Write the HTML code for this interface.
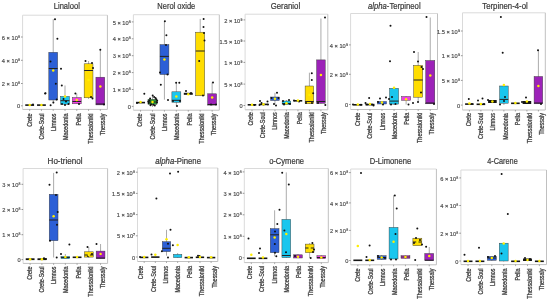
<!DOCTYPE html>
<html><head><meta charset="utf-8"><style>
html,body{margin:0;padding:0;background:#fff;width:550px;height:302px;overflow:hidden}
svg{display:block;will-change:transform}
text{font-family:"Liberation Sans", sans-serif}
</style></head><body>
<svg width="550" height="302" viewBox="0 0 550 302">
<rect width="550" height="302" fill="#fff"/>
<g><path d="M22.6 109.4V15.2H107.4" fill="none" stroke="#dadada" stroke-width="1"/><path d="M22.6 109.4H107.4V15.2" fill="none" stroke="#c0c0c0" stroke-width="1"/><text transform="translate(66.8,9.2) scale(0.916,1)" text-anchor="middle" font-size="8.3" fill="#383838" stroke="#383838" stroke-width="0.2">Linalool</text><line x1="21" y1="37" x2="22.6" y2="37" stroke="#555" stroke-width="0.6"/><text transform="translate(20.2,39.6) scale(0.98,1)" text-anchor="end" font-size="5.8" fill="#4a4a4a" stroke="#4a4a4a" stroke-width="0.16">6 × 10⁸</text><line x1="21" y1="60.3" x2="22.6" y2="60.3" stroke="#555" stroke-width="0.6"/><text transform="translate(20.2,62.9) scale(0.98,1)" text-anchor="end" font-size="5.8" fill="#4a4a4a" stroke="#4a4a4a" stroke-width="0.16">4 × 10⁸</text><line x1="21" y1="83.5" x2="22.6" y2="83.5" stroke="#555" stroke-width="0.6"/><text transform="translate(20.2,86.1) scale(0.98,1)" text-anchor="end" font-size="5.8" fill="#4a4a4a" stroke="#4a4a4a" stroke-width="0.16">2 × 10⁸</text><line x1="21" y1="105.8" x2="22.6" y2="105.8" stroke="#555" stroke-width="0.6"/><text transform="translate(20.2,108.4) scale(0.98,1)" text-anchor="end" font-size="5.8" fill="#4a4a4a" stroke="#4a4a4a" stroke-width="0.16">0</text><line x1="29.67" y1="109.4" x2="29.67" y2="110.9" stroke="#777" stroke-width="0.6"/><text transform="translate(31.7,113.5) rotate(-90) scale(0.85,1)" text-anchor="end" font-size="6.4" fill="#3c3c3c" stroke="#3c3c3c" stroke-width="0.26">Crete</text><line x1="41.44" y1="109.4" x2="41.44" y2="110.9" stroke="#777" stroke-width="0.6"/><text transform="translate(43.95,113.5) rotate(-90) scale(0.85,1)" text-anchor="end" font-size="6.4" fill="#3c3c3c" stroke="#3c3c3c" stroke-width="0.26">Crete-Soul</text><line x1="53.22" y1="109.4" x2="53.22" y2="110.9" stroke="#777" stroke-width="0.6"/><text transform="translate(56.2,113.5) rotate(-90) scale(0.85,1)" text-anchor="end" font-size="6.4" fill="#3c3c3c" stroke="#3c3c3c" stroke-width="0.26">Limnos</text><line x1="65" y1="109.4" x2="65" y2="110.9" stroke="#777" stroke-width="0.6"/><text transform="translate(68.45,113.5) rotate(-90) scale(0.85,1)" text-anchor="end" font-size="6.4" fill="#3c3c3c" stroke="#3c3c3c" stroke-width="0.26">Macedonia</text><line x1="76.78" y1="109.4" x2="76.78" y2="110.9" stroke="#777" stroke-width="0.6"/><text transform="translate(80.7,113.5) rotate(-90) scale(0.85,1)" text-anchor="end" font-size="6.4" fill="#3c3c3c" stroke="#3c3c3c" stroke-width="0.26">Pella</text><line x1="88.56" y1="109.4" x2="88.56" y2="110.9" stroke="#777" stroke-width="0.6"/><text transform="translate(92.95,113.5) rotate(-90) scale(0.85,1)" text-anchor="end" font-size="6.4" fill="#3c3c3c" stroke="#3c3c3c" stroke-width="0.26">Thessaloniki</text><line x1="100.33" y1="109.4" x2="100.33" y2="110.9" stroke="#777" stroke-width="0.6"/><text transform="translate(105.2,113.5) rotate(-90) scale(0.85,1)" text-anchor="end" font-size="6.4" fill="#3c3c3c" stroke="#3c3c3c" stroke-width="0.26">Thessaly</text><rect x="25.25" y="104.3" width="8.83" height="1.6" fill="#151515"/><circle cx="33" cy="104.5" r="1" fill="#111"/><circle cx="29.67" cy="105" r="1.25" fill="#ffee00"/><rect x="37.03" y="104.3" width="8.83" height="1.6" fill="#151515"/><circle cx="45.5" cy="93.3" r="1" fill="#111"/><circle cx="41.44" cy="105" r="1.25" fill="#ffee00"/><line x1="53.22" y1="19.2" x2="53.22" y2="103.7" stroke="#888" stroke-width="0.7"/><rect x="48.81" y="52.3" width="8.83" height="47.7" fill="#2c5fd6" stroke="#3a3a3a" stroke-width="0.45"/><line x1="48.81" y1="68.5" x2="57.64" y2="68.5" stroke="#222" stroke-width="1"/><circle cx="55" cy="19.2" r="1" fill="#111"/><circle cx="57.4" cy="38.7" r="1" fill="#111"/><circle cx="50.5" cy="61.4" r="1" fill="#111"/><circle cx="61" cy="68.7" r="1" fill="#111"/><circle cx="55.8" cy="83.8" r="1" fill="#111"/><circle cx="56.7" cy="99.6" r="1" fill="#111"/><circle cx="53.4" cy="102.4" r="1" fill="#111"/><circle cx="50.6" cy="105.3" r="1" fill="#111"/><circle cx="45.1" cy="93.6" r="1" fill="#111"/><circle cx="53.22" cy="70.5" r="1.25" fill="#ffee00"/><line x1="65" y1="85.5" x2="65" y2="105.5" stroke="#888" stroke-width="0.7"/><rect x="60.58" y="96.4" width="8.83" height="7.8" fill="#19c6ee" stroke="#3a3a3a" stroke-width="0.45"/><line x1="60.58" y1="100.7" x2="69.42" y2="100.7" stroke="#222" stroke-width="1"/><circle cx="61.8" cy="85.5" r="1" fill="#111"/><circle cx="63.5" cy="99" r="1" fill="#111"/><circle cx="66" cy="101.5" r="1" fill="#111"/><circle cx="62" cy="104" r="1" fill="#111"/><circle cx="68.5" cy="104" r="1" fill="#111"/><circle cx="65" cy="105" r="1" fill="#111"/><circle cx="65" cy="96.4" r="1.25" fill="#ffee00"/><line x1="76.78" y1="93.6" x2="76.78" y2="104" stroke="#888" stroke-width="0.7"/><rect x="72.36" y="97.5" width="8.83" height="6.3" fill="#ee3fe2" stroke="#3a3a3a" stroke-width="0.45"/><line x1="72.36" y1="101.5" x2="81.19" y2="101.5" stroke="#222" stroke-width="1"/><circle cx="75.4" cy="93.6" r="1" fill="#111"/><circle cx="79" cy="104" r="1" fill="#111"/><circle cx="76.78" cy="100" r="1.25" fill="#ffee00"/><line x1="88.56" y1="61" x2="88.56" y2="99" stroke="#888" stroke-width="0.7"/><rect x="84.14" y="63.8" width="8.83" height="34" fill="#ffdd00" stroke="#3a3a3a" stroke-width="0.45"/><line x1="84.14" y1="70.5" x2="92.97" y2="70.5" stroke="#222" stroke-width="1"/><circle cx="85.5" cy="61" r="1" fill="#111"/><circle cx="92" cy="63" r="1" fill="#111"/><circle cx="93" cy="68" r="1" fill="#111"/><circle cx="91" cy="97" r="1" fill="#111"/><circle cx="92.5" cy="98.5" r="1" fill="#111"/><circle cx="88.56" cy="80" r="1.25" fill="#ffee00"/><line x1="100.33" y1="49.7" x2="100.33" y2="105" stroke="#888" stroke-width="0.7"/><rect x="95.92" y="77.2" width="8.83" height="27.7" fill="#9c22b8" stroke="#3a3a3a" stroke-width="0.45"/><line x1="95.92" y1="104" x2="104.75" y2="104" stroke="#222" stroke-width="1"/><circle cx="100.3" cy="49.7" r="1" fill="#111"/><circle cx="104" cy="104.5" r="1" fill="#111"/><circle cx="100.33" cy="86.5" r="1.25" fill="#ffee00"/></g>
<g><path d="M133.4 110.2V14.7H219.3" fill="none" stroke="#dadada" stroke-width="1"/><path d="M133.4 110.2H219.3V14.7" fill="none" stroke="#c0c0c0" stroke-width="1"/><text transform="translate(176.3,8.7) scale(0.905,1)" text-anchor="middle" font-size="8.3" fill="#383838" stroke="#383838" stroke-width="0.2">Nerol oxide</text><line x1="131.8" y1="21.9" x2="133.4" y2="21.9" stroke="#555" stroke-width="0.6"/><text transform="translate(131,24.5) scale(0.98,1)" text-anchor="end" font-size="5.8" fill="#4a4a4a" stroke="#4a4a4a" stroke-width="0.16">5 × 10⁸</text><line x1="131.8" y1="38.8" x2="133.4" y2="38.8" stroke="#555" stroke-width="0.6"/><text transform="translate(131,41.4) scale(0.98,1)" text-anchor="end" font-size="5.8" fill="#4a4a4a" stroke="#4a4a4a" stroke-width="0.16">4 × 10⁸</text><line x1="131.8" y1="55.7" x2="133.4" y2="55.7" stroke="#555" stroke-width="0.6"/><text transform="translate(131,58.3) scale(0.98,1)" text-anchor="end" font-size="5.8" fill="#4a4a4a" stroke="#4a4a4a" stroke-width="0.16">3 × 10⁸</text><line x1="131.8" y1="72.6" x2="133.4" y2="72.6" stroke="#555" stroke-width="0.6"/><text transform="translate(131,75.2) scale(0.98,1)" text-anchor="end" font-size="5.8" fill="#4a4a4a" stroke="#4a4a4a" stroke-width="0.16">2 × 10⁸</text><line x1="131.8" y1="89.5" x2="133.4" y2="89.5" stroke="#555" stroke-width="0.6"/><text transform="translate(131,92.1) scale(0.98,1)" text-anchor="end" font-size="5.8" fill="#4a4a4a" stroke="#4a4a4a" stroke-width="0.16">1 × 10⁸</text><line x1="131.8" y1="106.4" x2="133.4" y2="106.4" stroke="#555" stroke-width="0.6"/><text transform="translate(131,109) scale(0.98,1)" text-anchor="end" font-size="5.8" fill="#4a4a4a" stroke="#4a4a4a" stroke-width="0.16">0</text><line x1="140.56" y1="110.2" x2="140.56" y2="111.7" stroke="#777" stroke-width="0.6"/><text transform="translate(142.4,113.5) rotate(-90) scale(0.85,1)" text-anchor="end" font-size="6.4" fill="#3c3c3c" stroke="#3c3c3c" stroke-width="0.26">Crete</text><line x1="152.49" y1="110.2" x2="152.49" y2="111.7" stroke="#777" stroke-width="0.6"/><text transform="translate(154.68,113.5) rotate(-90) scale(0.85,1)" text-anchor="end" font-size="6.4" fill="#3c3c3c" stroke="#3c3c3c" stroke-width="0.26">Crete-Soul</text><line x1="164.42" y1="110.2" x2="164.42" y2="111.7" stroke="#777" stroke-width="0.6"/><text transform="translate(166.96,113.5) rotate(-90) scale(0.85,1)" text-anchor="end" font-size="6.4" fill="#3c3c3c" stroke="#3c3c3c" stroke-width="0.26">Limnos</text><line x1="176.35" y1="110.2" x2="176.35" y2="111.7" stroke="#777" stroke-width="0.6"/><text transform="translate(179.24,113.5) rotate(-90) scale(0.85,1)" text-anchor="end" font-size="6.4" fill="#3c3c3c" stroke="#3c3c3c" stroke-width="0.26">Macedonia</text><line x1="188.28" y1="110.2" x2="188.28" y2="111.7" stroke="#777" stroke-width="0.6"/><text transform="translate(191.52,113.5) rotate(-90) scale(0.85,1)" text-anchor="end" font-size="6.4" fill="#3c3c3c" stroke="#3c3c3c" stroke-width="0.26">Pella</text><line x1="200.21" y1="110.2" x2="200.21" y2="111.7" stroke="#777" stroke-width="0.6"/><text transform="translate(203.8,113.5) rotate(-90) scale(0.85,1)" text-anchor="end" font-size="6.4" fill="#3c3c3c" stroke="#3c3c3c" stroke-width="0.26">Thessaloniki</text><line x1="212.14" y1="110.2" x2="212.14" y2="111.7" stroke="#777" stroke-width="0.6"/><text transform="translate(216.08,113.5) rotate(-90) scale(0.85,1)" text-anchor="end" font-size="6.4" fill="#3c3c3c" stroke="#3c3c3c" stroke-width="0.26">Thessaly</text><rect x="136.08" y="101.8" width="8.95" height="1.6" fill="#151515"/><circle cx="144.3" cy="93.8" r="1" fill="#111"/><circle cx="137" cy="103" r="1" fill="#111"/><circle cx="140.56" cy="102" r="1.25" fill="#ffee00"/><line x1="152.49" y1="96" x2="152.49" y2="107" stroke="#888" stroke-width="0.7"/><rect x="148.01" y="99.3" width="8.95" height="5" fill="#2a9a3a" stroke="#3a3a3a" stroke-width="0.45"/><line x1="148.01" y1="102" x2="156.96" y2="102" stroke="#222" stroke-width="1"/><circle cx="152.7" cy="95.6" r="1" fill="#111"/><circle cx="154.1" cy="97.1" r="1" fill="#111"/><circle cx="150.1" cy="98.6" r="1" fill="#111"/><circle cx="156.3" cy="99.3" r="1" fill="#111"/><circle cx="148.7" cy="103" r="1" fill="#111"/><circle cx="154.8" cy="105.5" r="1" fill="#111"/><circle cx="157" cy="102.6" r="1" fill="#111"/><circle cx="153.4" cy="104.8" r="1" fill="#111"/><circle cx="151" cy="104.2" r="1" fill="#111"/><circle cx="149.5" cy="100.5" r="1" fill="#111"/><circle cx="155.5" cy="98" r="1" fill="#111"/><circle cx="157.2" cy="100.8" r="1" fill="#111"/><circle cx="148.3" cy="101.5" r="1" fill="#111"/><circle cx="150.5" cy="105.2" r="1" fill="#111"/><circle cx="152.49" cy="102" r="1.25" fill="#ffee00"/><line x1="164.42" y1="21.3" x2="164.42" y2="99.7" stroke="#888" stroke-width="0.7"/><rect x="159.95" y="44.6" width="8.95" height="29.9" fill="#2c5fd6" stroke="#3a3a3a" stroke-width="0.45"/><line x1="159.95" y1="56.4" x2="168.89" y2="56.4" stroke="#222" stroke-width="1"/><circle cx="164.9" cy="21.3" r="1" fill="#111"/><circle cx="166.4" cy="35.2" r="1" fill="#111"/><circle cx="160.8" cy="84.8" r="1" fill="#111"/><circle cx="160" cy="72.5" r="1" fill="#111"/><circle cx="167.5" cy="74.5" r="1" fill="#111"/><circle cx="168" cy="100" r="1" fill="#111"/><circle cx="166" cy="45" r="1" fill="#111"/><circle cx="164.42" cy="59.4" r="1.25" fill="#ffee00"/><line x1="176.35" y1="82.8" x2="176.35" y2="106.3" stroke="#888" stroke-width="0.7"/><rect x="171.88" y="91.8" width="8.95" height="10.5" fill="#19c6ee" stroke="#3a3a3a" stroke-width="0.45"/><line x1="171.88" y1="100.3" x2="180.82" y2="100.3" stroke="#222" stroke-width="1"/><circle cx="176.1" cy="82.8" r="1" fill="#111"/><circle cx="179.3" cy="82.8" r="1" fill="#111"/><circle cx="173" cy="101" r="1" fill="#111"/><circle cx="177" cy="106" r="1" fill="#111"/><circle cx="180" cy="101" r="1" fill="#111"/><circle cx="176.35" cy="96.5" r="1.25" fill="#ffee00"/><rect x="183.81" y="92.8" width="8.95" height="2" fill="#151515"/><circle cx="186" cy="91" r="1" fill="#111"/><circle cx="191" cy="93" r="1" fill="#111"/><circle cx="188.28" cy="94.3" r="1.25" fill="#ffee00"/><line x1="200.21" y1="18.9" x2="200.21" y2="96" stroke="#888" stroke-width="0.7"/><rect x="195.74" y="32.2" width="8.95" height="63.6" fill="#ffdd00" stroke="#3a3a3a" stroke-width="0.45"/><line x1="195.74" y1="51" x2="204.69" y2="51" stroke="#222" stroke-width="1"/><circle cx="203.6" cy="18.9" r="1" fill="#111"/><circle cx="203.5" cy="26.9" r="1" fill="#111"/><circle cx="204" cy="33" r="1" fill="#111"/><circle cx="204.5" cy="40.5" r="1" fill="#111"/><circle cx="199.2" cy="61" r="1" fill="#111"/><circle cx="203" cy="95.5" r="1" fill="#111"/><line x1="212.14" y1="82.4" x2="212.14" y2="105.5" stroke="#888" stroke-width="0.7"/><rect x="207.67" y="93.8" width="8.95" height="11.3" fill="#9c22b8" stroke="#3a3a3a" stroke-width="0.45"/><line x1="207.67" y1="104.5" x2="216.62" y2="104.5" stroke="#222" stroke-width="1"/><circle cx="213" cy="82.4" r="1" fill="#111"/><circle cx="211" cy="104.5" r="1" fill="#111"/><circle cx="216" cy="104.5" r="1" fill="#111"/><circle cx="212.14" cy="97.5" r="1.25" fill="#ffee00"/></g>
<g><path d="M245.1 109.8V14.2H327.8" fill="none" stroke="#dadada" stroke-width="1"/><path d="M245.1 109.8H327.8V14.2" fill="none" stroke="#c0c0c0" stroke-width="1"/><text transform="translate(285.4,9) scale(0.940,1)" text-anchor="middle" font-size="8.3" fill="#383838" stroke="#383838" stroke-width="0.2">Geraniol</text><line x1="243.5" y1="19.9" x2="245.1" y2="19.9" stroke="#555" stroke-width="0.6"/><text transform="translate(242.7,22.5) scale(0.98,1)" text-anchor="end" font-size="5.8" fill="#4a4a4a" stroke="#4a4a4a" stroke-width="0.16">2 × 10⁹</text><line x1="243.5" y1="41" x2="245.1" y2="41" stroke="#555" stroke-width="0.6"/><text transform="translate(242.7,43.6) scale(0.98,1)" text-anchor="end" font-size="5.8" fill="#4a4a4a" stroke="#4a4a4a" stroke-width="0.16">1.5 × 10⁹</text><line x1="243.5" y1="62.4" x2="245.1" y2="62.4" stroke="#555" stroke-width="0.6"/><text transform="translate(242.7,65) scale(0.98,1)" text-anchor="end" font-size="5.8" fill="#4a4a4a" stroke="#4a4a4a" stroke-width="0.16">1 × 10⁹</text><line x1="243.5" y1="84.1" x2="245.1" y2="84.1" stroke="#555" stroke-width="0.6"/><text transform="translate(242.7,86.7) scale(0.98,1)" text-anchor="end" font-size="5.8" fill="#4a4a4a" stroke="#4a4a4a" stroke-width="0.16">5 × 10⁸</text><line x1="243.5" y1="105.5" x2="245.1" y2="105.5" stroke="#555" stroke-width="0.6"/><text transform="translate(242.7,108.1) scale(0.98,1)" text-anchor="end" font-size="5.8" fill="#4a4a4a" stroke="#4a4a4a" stroke-width="0.16">0</text><line x1="251.99" y1="109.8" x2="251.99" y2="111.3" stroke="#777" stroke-width="0.6"/><text transform="translate(252.8,112.3) rotate(-90) scale(0.85,1)" text-anchor="end" font-size="6.4" fill="#3c3c3c" stroke="#3c3c3c" stroke-width="0.26">Crete</text><line x1="263.48" y1="109.8" x2="263.48" y2="111.3" stroke="#777" stroke-width="0.6"/><text transform="translate(265,112.3) rotate(-90) scale(0.85,1)" text-anchor="end" font-size="6.4" fill="#3c3c3c" stroke="#3c3c3c" stroke-width="0.26">Crete-Soul</text><line x1="274.96" y1="109.8" x2="274.96" y2="111.3" stroke="#777" stroke-width="0.6"/><text transform="translate(277.2,112.3) rotate(-90) scale(0.85,1)" text-anchor="end" font-size="6.4" fill="#3c3c3c" stroke="#3c3c3c" stroke-width="0.26">Limnos</text><line x1="286.45" y1="109.8" x2="286.45" y2="111.3" stroke="#777" stroke-width="0.6"/><text transform="translate(289.4,112.3) rotate(-90) scale(0.85,1)" text-anchor="end" font-size="6.4" fill="#3c3c3c" stroke="#3c3c3c" stroke-width="0.26">Macedonia</text><line x1="297.94" y1="109.8" x2="297.94" y2="111.3" stroke="#777" stroke-width="0.6"/><text transform="translate(301.6,112.3) rotate(-90) scale(0.85,1)" text-anchor="end" font-size="6.4" fill="#3c3c3c" stroke="#3c3c3c" stroke-width="0.26">Pella</text><line x1="309.42" y1="109.8" x2="309.42" y2="111.3" stroke="#777" stroke-width="0.6"/><text transform="translate(313.8,112.3) rotate(-90) scale(0.85,1)" text-anchor="end" font-size="6.4" fill="#3c3c3c" stroke="#3c3c3c" stroke-width="0.26">Thessaloniki</text><line x1="320.91" y1="109.8" x2="320.91" y2="111.3" stroke="#777" stroke-width="0.6"/><text transform="translate(326,112.3) rotate(-90) scale(0.85,1)" text-anchor="end" font-size="6.4" fill="#3c3c3c" stroke="#3c3c3c" stroke-width="0.26">Thessaly</text><rect x="247.68" y="104" width="8.61" height="1.6" fill="#151515"/><circle cx="254.5" cy="105" r="1" fill="#111"/><circle cx="251.99" cy="104.8" r="1.25" fill="#ffee00"/><rect x="259.17" y="103.6" width="8.61" height="1.6" fill="#151515"/><circle cx="260" cy="101" r="1" fill="#111"/><circle cx="259.5" cy="105" r="1" fill="#111"/><circle cx="263.5" cy="104.5" r="1" fill="#111"/><circle cx="267.5" cy="101.5" r="1" fill="#111"/><circle cx="268" cy="104.5" r="1" fill="#111"/><circle cx="261.5" cy="103" r="1" fill="#111"/><circle cx="263.48" cy="104.3" r="1.25" fill="#ffee00"/><line x1="274.96" y1="92.8" x2="274.96" y2="104" stroke="#888" stroke-width="0.7"/><rect x="270.66" y="97" width="8.61" height="3.5" fill="#2c5fd6" stroke="#3a3a3a" stroke-width="0.45"/><circle cx="277" cy="92.8" r="1" fill="#111"/><circle cx="274" cy="104" r="1" fill="#111"/><circle cx="276" cy="105.5" r="1" fill="#111"/><circle cx="271.5" cy="98" r="1" fill="#111"/><circle cx="278.5" cy="98" r="1" fill="#111"/><circle cx="274.96" cy="98.8" r="1.25" fill="#ffee00"/><line x1="286.45" y1="100" x2="286.45" y2="105" stroke="#888" stroke-width="0.7"/><rect x="282.14" y="101" width="8.61" height="3.5" fill="#19c6ee" stroke="#3a3a3a" stroke-width="0.45"/><line x1="282.14" y1="103.5" x2="290.76" y2="103.5" stroke="#222" stroke-width="1"/><circle cx="283" cy="101" r="1" fill="#111"/><circle cx="289" cy="100" r="1" fill="#111"/><circle cx="290" cy="104" r="1" fill="#111"/><circle cx="284" cy="104.5" r="1" fill="#111"/><circle cx="286.45" cy="103.2" r="1.25" fill="#ffee00"/><rect x="293.63" y="100" width="8.61" height="1.6" fill="#151515"/><circle cx="294" cy="100.5" r="1" fill="#111"/><circle cx="299" cy="101.5" r="1" fill="#111"/><circle cx="297.94" cy="100.5" r="1.25" fill="#ffee00"/><line x1="309.42" y1="72.7" x2="309.42" y2="104" stroke="#888" stroke-width="0.7"/><rect x="305.11" y="86" width="8.61" height="17.7" fill="#ffdd00" stroke="#3a3a3a" stroke-width="0.45"/><line x1="305.11" y1="101.5" x2="313.73" y2="101.5" stroke="#222" stroke-width="1"/><circle cx="311.8" cy="73.2" r="1" fill="#111"/><circle cx="311.8" cy="80.1" r="1" fill="#111"/><circle cx="313.2" cy="93.2" r="1" fill="#111"/><circle cx="306" cy="103" r="1" fill="#111"/><circle cx="312" cy="103" r="1" fill="#111"/><circle cx="309.42" cy="95" r="1.25" fill="#ffee00"/><line x1="320.91" y1="18.5" x2="320.91" y2="104" stroke="#888" stroke-width="0.7"/><rect x="316.6" y="59.9" width="8.61" height="43.4" fill="#9c22b8" stroke="#3a3a3a" stroke-width="0.45"/><line x1="316.6" y1="101.5" x2="325.22" y2="101.5" stroke="#222" stroke-width="1"/><circle cx="325" cy="17.5" r="1" fill="#111"/><circle cx="325.3" cy="105" r="1" fill="#111"/><circle cx="318" cy="103" r="1" fill="#111"/><circle cx="320.91" cy="74.9" r="1.25" fill="#ffee00"/></g>
<g><path d="M350.6 109.5V13.5H437.5" fill="none" stroke="#dadada" stroke-width="1"/><path d="M350.6 109.5H437.5V13.5" fill="none" stroke="#c0c0c0" stroke-width="1"/><text transform="translate(394.3,9.4) scale(0.928,1)" text-anchor="middle" font-size="8.3" fill="#383838" stroke="#383838" stroke-width="0.2"><tspan font-style="italic">alpha</tspan>-Terpineol</text><line x1="349" y1="44.9" x2="350.6" y2="44.9" stroke="#555" stroke-width="0.6"/><text transform="translate(348.2,47.5) scale(0.98,1)" text-anchor="end" font-size="5.8" fill="#4a4a4a" stroke="#4a4a4a" stroke-width="0.16">4 × 10⁹</text><line x1="349" y1="74.3" x2="350.6" y2="74.3" stroke="#555" stroke-width="0.6"/><text transform="translate(348.2,76.9) scale(0.98,1)" text-anchor="end" font-size="5.8" fill="#4a4a4a" stroke="#4a4a4a" stroke-width="0.16">2 × 10⁹</text><line x1="349" y1="104.5" x2="350.6" y2="104.5" stroke="#555" stroke-width="0.6"/><text transform="translate(348.2,107.1) scale(0.98,1)" text-anchor="end" font-size="5.8" fill="#4a4a4a" stroke="#4a4a4a" stroke-width="0.16">0</text><line x1="357.84" y1="109.5" x2="357.84" y2="111" stroke="#777" stroke-width="0.6"/><text transform="translate(359.9,112.8) rotate(-90) scale(0.85,1)" text-anchor="end" font-size="6.4" fill="#3c3c3c" stroke="#3c3c3c" stroke-width="0.26">Crete</text><line x1="369.91" y1="109.5" x2="369.91" y2="111" stroke="#777" stroke-width="0.6"/><text transform="translate(372.25,112.8) rotate(-90) scale(0.85,1)" text-anchor="end" font-size="6.4" fill="#3c3c3c" stroke="#3c3c3c" stroke-width="0.26">Crete-Soul</text><line x1="381.98" y1="109.5" x2="381.98" y2="111" stroke="#777" stroke-width="0.6"/><text transform="translate(384.6,112.8) rotate(-90) scale(0.85,1)" text-anchor="end" font-size="6.4" fill="#3c3c3c" stroke="#3c3c3c" stroke-width="0.26">Limnos</text><line x1="394.05" y1="109.5" x2="394.05" y2="111" stroke="#777" stroke-width="0.6"/><text transform="translate(396.95,112.8) rotate(-90) scale(0.85,1)" text-anchor="end" font-size="6.4" fill="#3c3c3c" stroke="#3c3c3c" stroke-width="0.26">Macedonia</text><line x1="406.12" y1="109.5" x2="406.12" y2="111" stroke="#777" stroke-width="0.6"/><text transform="translate(409.3,112.8) rotate(-90) scale(0.85,1)" text-anchor="end" font-size="6.4" fill="#3c3c3c" stroke="#3c3c3c" stroke-width="0.26">Pella</text><line x1="418.19" y1="109.5" x2="418.19" y2="111" stroke="#777" stroke-width="0.6"/><text transform="translate(421.65,112.8) rotate(-90) scale(0.85,1)" text-anchor="end" font-size="6.4" fill="#3c3c3c" stroke="#3c3c3c" stroke-width="0.26">Thessaloniki</text><line x1="430.26" y1="109.5" x2="430.26" y2="111" stroke="#777" stroke-width="0.6"/><text transform="translate(434,112.8) rotate(-90) scale(0.85,1)" text-anchor="end" font-size="6.4" fill="#3c3c3c" stroke="#3c3c3c" stroke-width="0.26">Thessaly</text><rect x="353.32" y="104" width="9.05" height="1.6" fill="#151515"/><circle cx="353" cy="104.5" r="1" fill="#111"/><circle cx="361" cy="104.8" r="1" fill="#111"/><circle cx="357.84" cy="104.6" r="1.25" fill="#ffee00"/><rect x="365.39" y="103.8" width="9.05" height="1.6" fill="#151515"/><circle cx="369.1" cy="97.9" r="1" fill="#111"/><circle cx="365.5" cy="103" r="1" fill="#111"/><circle cx="367" cy="104.6" r="1" fill="#111"/><circle cx="372" cy="104.6" r="1" fill="#111"/><circle cx="373.5" cy="105.6" r="1" fill="#111"/><circle cx="369.91" cy="104.1" r="1.25" fill="#ffee00"/><rect x="377.45" y="101.5" width="9.05" height="2.5" fill="#2c5fd6" stroke="#3a3a3a" stroke-width="0.45"/><circle cx="380" cy="98.6" r="1" fill="#111"/><circle cx="386" cy="97.5" r="1" fill="#111"/><circle cx="383" cy="104.5" r="1" fill="#111"/><circle cx="378" cy="102" r="1" fill="#111"/><circle cx="381.98" cy="102.4" r="1.25" fill="#ffee00"/><line x1="394.05" y1="88.3" x2="394.05" y2="105" stroke="#888" stroke-width="0.7"/><rect x="389.52" y="88.3" width="9.05" height="15.8" fill="#19c6ee" stroke="#3a3a3a" stroke-width="0.45"/><line x1="389.52" y1="101.1" x2="398.58" y2="101.1" stroke="#222" stroke-width="1"/><circle cx="390.5" cy="25.7" r="1" fill="#111"/><circle cx="390" cy="61.2" r="1" fill="#111"/><circle cx="392" cy="97" r="1" fill="#111"/><circle cx="389" cy="99" r="1" fill="#111"/><circle cx="391" cy="104.5" r="1" fill="#111"/><circle cx="395.5" cy="104" r="1" fill="#111"/><circle cx="394.05" cy="87.7" r="1.25" fill="#ffee00"/><line x1="406.12" y1="96" x2="406.12" y2="104.6" stroke="#888" stroke-width="0.7"/><rect x="401.59" y="96.5" width="9.05" height="3.8" fill="#ee3fe2" stroke="#3a3a3a" stroke-width="0.45"/><circle cx="408.5" cy="104.5" r="1" fill="#111"/><circle cx="406.12" cy="99.2" r="1.25" fill="#ffee00"/><line x1="418.19" y1="52" x2="418.19" y2="102" stroke="#888" stroke-width="0.7"/><rect x="413.66" y="65.4" width="9.05" height="31.8" fill="#ffdd00" stroke="#3a3a3a" stroke-width="0.45"/><line x1="413.66" y1="80" x2="422.71" y2="80" stroke="#222" stroke-width="1"/><circle cx="414" cy="52" r="1" fill="#111"/><circle cx="418" cy="61.5" r="1" fill="#111"/><circle cx="421.5" cy="67" r="1" fill="#111"/><circle cx="423" cy="69" r="1" fill="#111"/><circle cx="421" cy="92.5" r="1" fill="#111"/><circle cx="418" cy="102" r="1" fill="#111"/><circle cx="413" cy="103" r="1" fill="#111"/><line x1="430.26" y1="17.5" x2="430.26" y2="104" stroke="#888" stroke-width="0.7"/><rect x="425.73" y="60.5" width="9.05" height="43.3" fill="#9c22b8" stroke="#3a3a3a" stroke-width="0.45"/><line x1="425.73" y1="103" x2="434.78" y2="103" stroke="#222" stroke-width="1"/><circle cx="426.5" cy="17" r="1" fill="#111"/><circle cx="434" cy="104" r="1" fill="#111"/><circle cx="430.26" cy="75.4" r="1.25" fill="#ffee00"/></g>
<g><path d="M462.5 110V12.8H545.3" fill="none" stroke="#dadada" stroke-width="1"/><path d="M462.5 110H545.3V12.8" fill="none" stroke="#c0c0c0" stroke-width="1"/><text transform="translate(505,9) scale(0.938,1)" text-anchor="middle" font-size="8.3" fill="#383838" stroke="#383838" stroke-width="0.2">Terpinen-4-ol</text><line x1="460.9" y1="31" x2="462.5" y2="31" stroke="#555" stroke-width="0.6"/><text transform="translate(460.1,33.6) scale(0.98,1)" text-anchor="end" font-size="5.8" fill="#4a4a4a" stroke="#4a4a4a" stroke-width="0.16">1.5 × 10⁹</text><line x1="460.9" y1="55.7" x2="462.5" y2="55.7" stroke="#555" stroke-width="0.6"/><text transform="translate(460.1,58.3) scale(0.98,1)" text-anchor="end" font-size="5.8" fill="#4a4a4a" stroke="#4a4a4a" stroke-width="0.16">1 × 10⁹</text><line x1="460.9" y1="80.4" x2="462.5" y2="80.4" stroke="#555" stroke-width="0.6"/><text transform="translate(460.1,83) scale(0.98,1)" text-anchor="end" font-size="5.8" fill="#4a4a4a" stroke="#4a4a4a" stroke-width="0.16">5 × 10⁸</text><line x1="460.9" y1="105.1" x2="462.5" y2="105.1" stroke="#555" stroke-width="0.6"/><text transform="translate(460.1,107.7) scale(0.98,1)" text-anchor="end" font-size="5.8" fill="#4a4a4a" stroke="#4a4a4a" stroke-width="0.16">0</text><line x1="469.4" y1="110" x2="469.4" y2="111.5" stroke="#777" stroke-width="0.6"/><text transform="translate(470.9,113.1) rotate(-90) scale(0.85,1)" text-anchor="end" font-size="6.4" fill="#3c3c3c" stroke="#3c3c3c" stroke-width="0.26">Crete</text><line x1="480.9" y1="110" x2="480.9" y2="111.5" stroke="#777" stroke-width="0.6"/><text transform="translate(483.15,113.1) rotate(-90) scale(0.85,1)" text-anchor="end" font-size="6.4" fill="#3c3c3c" stroke="#3c3c3c" stroke-width="0.26">Crete-Soul</text><line x1="492.4" y1="110" x2="492.4" y2="111.5" stroke="#777" stroke-width="0.6"/><text transform="translate(495.4,113.1) rotate(-90) scale(0.85,1)" text-anchor="end" font-size="6.4" fill="#3c3c3c" stroke="#3c3c3c" stroke-width="0.26">Limnos</text><line x1="503.9" y1="110" x2="503.9" y2="111.5" stroke="#777" stroke-width="0.6"/><text transform="translate(507.65,113.1) rotate(-90) scale(0.85,1)" text-anchor="end" font-size="6.4" fill="#3c3c3c" stroke="#3c3c3c" stroke-width="0.26">Macedonia</text><line x1="515.4" y1="110" x2="515.4" y2="111.5" stroke="#777" stroke-width="0.6"/><text transform="translate(519.9,113.1) rotate(-90) scale(0.85,1)" text-anchor="end" font-size="6.4" fill="#3c3c3c" stroke="#3c3c3c" stroke-width="0.26">Pella</text><line x1="526.9" y1="110" x2="526.9" y2="111.5" stroke="#777" stroke-width="0.6"/><text transform="translate(532.15,113.1) rotate(-90) scale(0.85,1)" text-anchor="end" font-size="6.4" fill="#3c3c3c" stroke="#3c3c3c" stroke-width="0.26">Thessaloniki</text><line x1="538.4" y1="110" x2="538.4" y2="111.5" stroke="#777" stroke-width="0.6"/><text transform="translate(544.4,113.1) rotate(-90) scale(0.85,1)" text-anchor="end" font-size="6.4" fill="#3c3c3c" stroke="#3c3c3c" stroke-width="0.26">Thessaly</text><rect x="465.09" y="103.3" width="8.62" height="1.6" fill="#151515"/><circle cx="468.8" cy="99" r="1" fill="#111"/><circle cx="472" cy="104" r="1" fill="#111"/><circle cx="469.4" cy="103.5" r="1.25" fill="#ffee00"/><rect x="476.59" y="103.5" width="8.62" height="1.6" fill="#151515"/><circle cx="482.5" cy="98.5" r="1" fill="#111"/><circle cx="478" cy="100.5" r="1" fill="#111"/><circle cx="484" cy="104" r="1" fill="#111"/><circle cx="480.9" cy="104" r="1.25" fill="#ffee00"/><rect x="488.09" y="100" width="8.62" height="3" fill="#151515"/><circle cx="488" cy="100" r="1" fill="#111"/><circle cx="494" cy="102" r="1" fill="#111"/><circle cx="492.4" cy="101.5" r="1.25" fill="#ffee00"/><line x1="503.9" y1="86" x2="503.9" y2="105" stroke="#888" stroke-width="0.7"/><rect x="499.59" y="86" width="8.62" height="17.2" fill="#19c6ee" stroke="#3a3a3a" stroke-width="0.45"/><line x1="499.59" y1="99.4" x2="508.21" y2="99.4" stroke="#222" stroke-width="1"/><circle cx="500.9" cy="17" r="1" fill="#111"/><circle cx="502.7" cy="52.8" r="1" fill="#111"/><circle cx="505" cy="97" r="1" fill="#111"/><circle cx="500" cy="104.5" r="1" fill="#111"/><circle cx="504" cy="101" r="1" fill="#111"/><circle cx="503.9" cy="85" r="1.25" fill="#ffee00"/><rect x="511.09" y="102.5" width="8.62" height="1.6" fill="#151515"/><circle cx="515.4" cy="103" r="1.25" fill="#ffee00"/><rect x="522.59" y="101" width="8.62" height="3" fill="#151515"/><circle cx="526" cy="97.5" r="1" fill="#111"/><circle cx="522" cy="102" r="1" fill="#111"/><circle cx="526.9" cy="101.5" r="1.25" fill="#ffee00"/><line x1="538.4" y1="49.9" x2="538.4" y2="104" stroke="#888" stroke-width="0.7"/><rect x="534.09" y="76.5" width="8.62" height="27.3" fill="#9c22b8" stroke="#3a3a3a" stroke-width="0.45"/><line x1="534.09" y1="103" x2="542.71" y2="103" stroke="#222" stroke-width="1"/><circle cx="538" cy="50.2" r="1" fill="#111"/><circle cx="541" cy="104" r="1" fill="#111"/><circle cx="538.4" cy="86" r="1.25" fill="#ffee00"/></g>
<g><path d="M23.1 263.4V168.5H107.6" fill="none" stroke="#dadada" stroke-width="1"/><path d="M23.1 263.4H107.6V168.5" fill="none" stroke="#c0c0c0" stroke-width="1"/><text transform="translate(65,164.2) scale(0.970,1)" text-anchor="middle" font-size="8.3" fill="#383838" stroke="#383838" stroke-width="0.2">Ho-trienol</text><line x1="21.5" y1="184.3" x2="23.1" y2="184.3" stroke="#555" stroke-width="0.6"/><text transform="translate(20.7,186.9) scale(0.98,1)" text-anchor="end" font-size="5.8" fill="#4a4a4a" stroke="#4a4a4a" stroke-width="0.16">3 × 10⁸</text><line x1="21.5" y1="209.5" x2="23.1" y2="209.5" stroke="#555" stroke-width="0.6"/><text transform="translate(20.7,212.1) scale(0.98,1)" text-anchor="end" font-size="5.8" fill="#4a4a4a" stroke="#4a4a4a" stroke-width="0.16">2 × 10⁸</text><line x1="21.5" y1="234.7" x2="23.1" y2="234.7" stroke="#555" stroke-width="0.6"/><text transform="translate(20.7,237.3) scale(0.98,1)" text-anchor="end" font-size="5.8" fill="#4a4a4a" stroke="#4a4a4a" stroke-width="0.16">1 × 10⁸</text><line x1="21.5" y1="259.6" x2="23.1" y2="259.6" stroke="#555" stroke-width="0.6"/><text transform="translate(20.7,262.2) scale(0.98,1)" text-anchor="end" font-size="5.8" fill="#4a4a4a" stroke="#4a4a4a" stroke-width="0.16">0</text><line x1="30.14" y1="263.4" x2="30.14" y2="264.9" stroke="#777" stroke-width="0.6"/><text transform="translate(31.6,266.5) rotate(-90) scale(0.85,1)" text-anchor="end" font-size="6.4" fill="#3c3c3c" stroke="#3c3c3c" stroke-width="0.26">Crete</text><line x1="41.88" y1="263.4" x2="41.88" y2="264.9" stroke="#777" stroke-width="0.6"/><text transform="translate(43.87,266.5) rotate(-90) scale(0.85,1)" text-anchor="end" font-size="6.4" fill="#3c3c3c" stroke="#3c3c3c" stroke-width="0.26">Crete-Soul</text><line x1="53.61" y1="263.4" x2="53.61" y2="264.9" stroke="#777" stroke-width="0.6"/><text transform="translate(56.14,266.5) rotate(-90) scale(0.85,1)" text-anchor="end" font-size="6.4" fill="#3c3c3c" stroke="#3c3c3c" stroke-width="0.26">Limnos</text><line x1="65.35" y1="263.4" x2="65.35" y2="264.9" stroke="#777" stroke-width="0.6"/><text transform="translate(68.41,266.5) rotate(-90) scale(0.85,1)" text-anchor="end" font-size="6.4" fill="#3c3c3c" stroke="#3c3c3c" stroke-width="0.26">Macedonia</text><line x1="77.09" y1="263.4" x2="77.09" y2="264.9" stroke="#777" stroke-width="0.6"/><text transform="translate(80.68,266.5) rotate(-90) scale(0.85,1)" text-anchor="end" font-size="6.4" fill="#3c3c3c" stroke="#3c3c3c" stroke-width="0.26">Pella</text><line x1="88.82" y1="263.4" x2="88.82" y2="264.9" stroke="#777" stroke-width="0.6"/><text transform="translate(92.95,266.5) rotate(-90) scale(0.85,1)" text-anchor="end" font-size="6.4" fill="#3c3c3c" stroke="#3c3c3c" stroke-width="0.26">Thessaloniki</text><line x1="100.56" y1="263.4" x2="100.56" y2="264.9" stroke="#777" stroke-width="0.6"/><text transform="translate(105.22,266.5) rotate(-90) scale(0.85,1)" text-anchor="end" font-size="6.4" fill="#3c3c3c" stroke="#3c3c3c" stroke-width="0.26">Thessaly</text><rect x="25.74" y="258.3" width="8.8" height="1.8" fill="#151515"/><circle cx="30.14" cy="259.2" r="1.25" fill="#ffee00"/><rect x="37.48" y="258.3" width="8.8" height="1.8" fill="#151515"/><circle cx="44" cy="258.3" r="1" fill="#111"/><circle cx="46" cy="259" r="1" fill="#111"/><circle cx="41.88" cy="259.2" r="1.25" fill="#ffee00"/><line x1="53.61" y1="172.9" x2="53.61" y2="257.5" stroke="#888" stroke-width="0.7"/><rect x="49.21" y="194.3" width="8.8" height="46.4" fill="#2c5fd6" stroke="#3a3a3a" stroke-width="0.45"/><line x1="49.21" y1="220" x2="58.01" y2="220" stroke="#222" stroke-width="1"/><circle cx="56.7" cy="172.5" r="1" fill="#111"/><circle cx="49.5" cy="184.7" r="1" fill="#111"/><circle cx="57.7" cy="212" r="1" fill="#111"/><circle cx="57" cy="224.7" r="1" fill="#111"/><circle cx="50" cy="240.7" r="1" fill="#111"/><circle cx="56.7" cy="257.6" r="1" fill="#111"/><circle cx="56" cy="195" r="1" fill="#111"/><circle cx="53.61" cy="216.3" r="1.25" fill="#ffee00"/><line x1="65.35" y1="254" x2="65.35" y2="259" stroke="#888" stroke-width="0.7"/><rect x="60.95" y="256.4" width="8.8" height="2.3" fill="#19c6ee" stroke="#3a3a3a" stroke-width="0.45"/><line x1="60.95" y1="257.5" x2="69.75" y2="257.5" stroke="#222" stroke-width="1"/><circle cx="69.4" cy="244.4" r="1" fill="#111"/><circle cx="61" cy="254" r="1" fill="#111"/><circle cx="65.35" cy="257" r="1.25" fill="#ffee00"/><rect x="72.69" y="256.5" width="8.8" height="1.6" fill="#151515"/><circle cx="77.09" cy="257" r="1.25" fill="#ffee00"/><line x1="88.82" y1="247.1" x2="88.82" y2="258" stroke="#888" stroke-width="0.7"/><rect x="84.42" y="251.8" width="8.8" height="5.3" fill="#ffdd00" stroke="#3a3a3a" stroke-width="0.45"/><line x1="84.42" y1="255" x2="93.22" y2="255" stroke="#222" stroke-width="1"/><circle cx="87.5" cy="247" r="1" fill="#111"/><circle cx="88" cy="256" r="1" fill="#111"/><circle cx="92" cy="254" r="1" fill="#111"/><circle cx="88.82" cy="255" r="1.25" fill="#ffee00"/><line x1="100.56" y1="244" x2="100.56" y2="258.5" stroke="#888" stroke-width="0.7"/><rect x="96.16" y="251.1" width="8.8" height="7.6" fill="#9c22b8" stroke="#3a3a3a" stroke-width="0.45"/><line x1="96.16" y1="258" x2="104.96" y2="258" stroke="#222" stroke-width="1"/><circle cx="96.5" cy="244" r="1" fill="#111"/><circle cx="100.56" cy="253.9" r="1.25" fill="#ffee00"/></g>
<g><path d="M137.5 261.5V168H217.8" fill="none" stroke="#dadada" stroke-width="1"/><path d="M137.5 261.5H217.8V168" fill="none" stroke="#c0c0c0" stroke-width="1"/><text transform="translate(178.1,164.2) scale(0.936,1)" text-anchor="middle" font-size="8.3" fill="#383838" stroke="#383838" stroke-width="0.2"><tspan font-style="italic">alpha</tspan>-Pinene</text><line x1="135.9" y1="172.2" x2="137.5" y2="172.2" stroke="#555" stroke-width="0.6"/><text transform="translate(135.1,174.8) scale(0.98,1)" text-anchor="end" font-size="5.8" fill="#4a4a4a" stroke="#4a4a4a" stroke-width="0.16">2 × 10⁸</text><line x1="135.9" y1="193.4" x2="137.5" y2="193.4" stroke="#555" stroke-width="0.6"/><text transform="translate(135.1,196) scale(0.98,1)" text-anchor="end" font-size="5.8" fill="#4a4a4a" stroke="#4a4a4a" stroke-width="0.16">1.5 × 10⁸</text><line x1="135.9" y1="214.6" x2="137.5" y2="214.6" stroke="#555" stroke-width="0.6"/><text transform="translate(135.1,217.2) scale(0.98,1)" text-anchor="end" font-size="5.8" fill="#4a4a4a" stroke="#4a4a4a" stroke-width="0.16">1 × 10⁸</text><line x1="135.9" y1="235.8" x2="137.5" y2="235.8" stroke="#555" stroke-width="0.6"/><text transform="translate(135.1,238.4) scale(0.98,1)" text-anchor="end" font-size="5.8" fill="#4a4a4a" stroke="#4a4a4a" stroke-width="0.16">5 × 10⁷</text><line x1="135.9" y1="257" x2="137.5" y2="257" stroke="#555" stroke-width="0.6"/><text transform="translate(135.1,259.6) scale(0.98,1)" text-anchor="end" font-size="5.8" fill="#4a4a4a" stroke="#4a4a4a" stroke-width="0.16">0</text><line x1="144.19" y1="261.5" x2="144.19" y2="263" stroke="#777" stroke-width="0.6"/><text transform="translate(143.3,266) rotate(-90) scale(0.85,1)" text-anchor="end" font-size="6.4" fill="#3c3c3c" stroke="#3c3c3c" stroke-width="0.26">Crete</text><line x1="155.34" y1="261.5" x2="155.34" y2="263" stroke="#777" stroke-width="0.6"/><text transform="translate(155.5,266) rotate(-90) scale(0.85,1)" text-anchor="end" font-size="6.4" fill="#3c3c3c" stroke="#3c3c3c" stroke-width="0.26">Crete-Soul</text><line x1="166.5" y1="261.5" x2="166.5" y2="263" stroke="#777" stroke-width="0.6"/><text transform="translate(167.7,266) rotate(-90) scale(0.85,1)" text-anchor="end" font-size="6.4" fill="#3c3c3c" stroke="#3c3c3c" stroke-width="0.26">Limnos</text><line x1="177.65" y1="261.5" x2="177.65" y2="263" stroke="#777" stroke-width="0.6"/><text transform="translate(179.9,266) rotate(-90) scale(0.85,1)" text-anchor="end" font-size="6.4" fill="#3c3c3c" stroke="#3c3c3c" stroke-width="0.26">Macedonia</text><line x1="188.8" y1="261.5" x2="188.8" y2="263" stroke="#777" stroke-width="0.6"/><text transform="translate(192.1,266) rotate(-90) scale(0.85,1)" text-anchor="end" font-size="6.4" fill="#3c3c3c" stroke="#3c3c3c" stroke-width="0.26">Pella</text><line x1="199.96" y1="261.5" x2="199.96" y2="263" stroke="#777" stroke-width="0.6"/><text transform="translate(204.3,266) rotate(-90) scale(0.85,1)" text-anchor="end" font-size="6.4" fill="#3c3c3c" stroke="#3c3c3c" stroke-width="0.26">Thessaloniki</text><line x1="211.11" y1="261.5" x2="211.11" y2="263" stroke="#777" stroke-width="0.6"/><text transform="translate(216.5,266) rotate(-90) scale(0.85,1)" text-anchor="end" font-size="6.4" fill="#3c3c3c" stroke="#3c3c3c" stroke-width="0.26">Thessaly</text><rect x="140.01" y="256.6" width="8.36" height="1.6" fill="#151515"/><circle cx="140" cy="257" r="1" fill="#111"/><circle cx="144.19" cy="257" r="1.25" fill="#ffee00"/><rect x="151.16" y="256.3" width="8.36" height="1.6" fill="#151515"/><circle cx="151.5" cy="254.5" r="1" fill="#111"/><circle cx="156.4" cy="198.5" r="1" fill="#111"/><circle cx="155.34" cy="254.7" r="1.25" fill="#ffee00"/><line x1="166.5" y1="229.8" x2="166.5" y2="255.7" stroke="#888" stroke-width="0.7"/><rect x="162.31" y="241.7" width="8.36" height="9.9" fill="#2c5fd6" stroke="#3a3a3a" stroke-width="0.45"/><line x1="162.31" y1="248.3" x2="170.68" y2="248.3" stroke="#222" stroke-width="1"/><circle cx="170" cy="173.6" r="1" fill="#111"/><circle cx="178.1" cy="171.8" r="1" fill="#111"/><circle cx="170.5" cy="229.8" r="1" fill="#111"/><circle cx="172.9" cy="245.3" r="1" fill="#111"/><circle cx="161.9" cy="251.2" r="1" fill="#111"/><circle cx="168" cy="257.4" r="1" fill="#111"/><circle cx="168" cy="243.7" r="1" fill="#111"/><circle cx="166.5" cy="239.3" r="1.25" fill="#ffee00"/><line x1="177.65" y1="253" x2="177.65" y2="258" stroke="#888" stroke-width="0.7"/><rect x="173.47" y="254.4" width="8.36" height="3.2" fill="#19c6ee" stroke="#3a3a3a" stroke-width="0.45"/><circle cx="177.65" cy="244.9" r="1.25" fill="#ffee00"/><rect x="184.62" y="256.8" width="8.36" height="1.6" fill="#151515"/><circle cx="188.8" cy="257.3" r="1.25" fill="#ffee00"/><rect x="195.77" y="256.5" width="8.36" height="1.6" fill="#151515"/><circle cx="198" cy="255.8" r="1" fill="#111"/><circle cx="199.5" cy="256" r="1" fill="#111"/><circle cx="199.96" cy="257" r="1.25" fill="#ffee00"/><rect x="206.93" y="256.8" width="8.36" height="1.6" fill="#151515"/><circle cx="211.11" cy="257.3" r="1.25" fill="#ffee00"/></g>
<g><path d="M244.3 262.6V168.5H328.3" fill="none" stroke="#dadada" stroke-width="1"/><path d="M244.3 262.6H328.3V168.5" fill="none" stroke="#c0c0c0" stroke-width="1"/><text transform="translate(286.6,164.2) scale(0.912,1)" text-anchor="middle" font-size="8.3" fill="#383838" stroke="#383838" stroke-width="0.2">o-Cymene</text><line x1="242.7" y1="171.9" x2="244.3" y2="171.9" stroke="#555" stroke-width="0.6"/><text transform="translate(241.9,174.5) scale(0.98,1)" text-anchor="end" font-size="5.8" fill="#4a4a4a" stroke="#4a4a4a" stroke-width="0.16">4 × 10⁸</text><line x1="242.7" y1="193.3" x2="244.3" y2="193.3" stroke="#555" stroke-width="0.6"/><text transform="translate(241.9,195.9) scale(0.98,1)" text-anchor="end" font-size="5.8" fill="#4a4a4a" stroke="#4a4a4a" stroke-width="0.16">3 × 10⁸</text><line x1="242.7" y1="214.8" x2="244.3" y2="214.8" stroke="#555" stroke-width="0.6"/><text transform="translate(241.9,217.4) scale(0.98,1)" text-anchor="end" font-size="5.8" fill="#4a4a4a" stroke="#4a4a4a" stroke-width="0.16">2 × 10⁸</text><line x1="242.7" y1="236.3" x2="244.3" y2="236.3" stroke="#555" stroke-width="0.6"/><text transform="translate(241.9,238.9) scale(0.98,1)" text-anchor="end" font-size="5.8" fill="#4a4a4a" stroke="#4a4a4a" stroke-width="0.16">1 × 10⁸</text><line x1="242.7" y1="257.8" x2="244.3" y2="257.8" stroke="#555" stroke-width="0.6"/><text transform="translate(241.9,260.4) scale(0.98,1)" text-anchor="end" font-size="5.8" fill="#4a4a4a" stroke="#4a4a4a" stroke-width="0.16">0</text><line x1="251.3" y1="262.6" x2="251.3" y2="264.1" stroke="#777" stroke-width="0.6"/><text transform="translate(252.1,266) rotate(-90) scale(0.85,1)" text-anchor="end" font-size="6.4" fill="#3c3c3c" stroke="#3c3c3c" stroke-width="0.26">Crete</text><line x1="262.97" y1="262.6" x2="262.97" y2="264.1" stroke="#777" stroke-width="0.6"/><text transform="translate(264.3,266) rotate(-90) scale(0.85,1)" text-anchor="end" font-size="6.4" fill="#3c3c3c" stroke="#3c3c3c" stroke-width="0.26">Crete-Soul</text><line x1="274.63" y1="262.6" x2="274.63" y2="264.1" stroke="#777" stroke-width="0.6"/><text transform="translate(276.5,266) rotate(-90) scale(0.85,1)" text-anchor="end" font-size="6.4" fill="#3c3c3c" stroke="#3c3c3c" stroke-width="0.26">Limnos</text><line x1="286.3" y1="262.6" x2="286.3" y2="264.1" stroke="#777" stroke-width="0.6"/><text transform="translate(288.7,266) rotate(-90) scale(0.85,1)" text-anchor="end" font-size="6.4" fill="#3c3c3c" stroke="#3c3c3c" stroke-width="0.26">Macedonia</text><line x1="297.97" y1="262.6" x2="297.97" y2="264.1" stroke="#777" stroke-width="0.6"/><text transform="translate(300.9,266) rotate(-90) scale(0.85,1)" text-anchor="end" font-size="6.4" fill="#3c3c3c" stroke="#3c3c3c" stroke-width="0.26">Pella</text><line x1="309.63" y1="262.6" x2="309.63" y2="264.1" stroke="#777" stroke-width="0.6"/><text transform="translate(313.1,266) rotate(-90) scale(0.85,1)" text-anchor="end" font-size="6.4" fill="#3c3c3c" stroke="#3c3c3c" stroke-width="0.26">Thessaloniki</text><line x1="321.3" y1="262.6" x2="321.3" y2="264.1" stroke="#777" stroke-width="0.6"/><text transform="translate(325.3,266) rotate(-90) scale(0.85,1)" text-anchor="end" font-size="6.4" fill="#3c3c3c" stroke="#3c3c3c" stroke-width="0.26">Thessaly</text><rect x="246.93" y="257.5" width="8.75" height="1.6" fill="#151515"/><circle cx="248.5" cy="238.5" r="1" fill="#111"/><circle cx="251.3" cy="254.8" r="1.25" fill="#ffee00"/><rect x="258.59" y="257.5" width="8.75" height="1.6" fill="#151515"/><circle cx="260" cy="248.5" r="1" fill="#111"/><circle cx="259" cy="253" r="1" fill="#111"/><circle cx="262.97" cy="257.5" r="1.25" fill="#ffee00"/><line x1="274.63" y1="210.3" x2="274.63" y2="256.3" stroke="#888" stroke-width="0.7"/><rect x="270.26" y="228.6" width="8.75" height="24.1" fill="#2c5fd6" stroke="#3a3a3a" stroke-width="0.45"/><line x1="270.26" y1="234.8" x2="279.01" y2="234.8" stroke="#222" stroke-width="1"/><circle cx="279.5" cy="209.7" r="1" fill="#111"/><circle cx="277.3" cy="224.1" r="1" fill="#111"/><circle cx="274.8" cy="244.1" r="1" fill="#111"/><circle cx="276.3" cy="256.3" r="1" fill="#111"/><circle cx="275" cy="231.5" r="1" fill="#111"/><circle cx="275" cy="252.7" r="1" fill="#111"/><circle cx="274.63" cy="237.6" r="1.25" fill="#ffee00"/><line x1="286.3" y1="172.4" x2="286.3" y2="258" stroke="#888" stroke-width="0.7"/><rect x="281.93" y="219.4" width="8.75" height="38.2" fill="#19c6ee" stroke="#3a3a3a" stroke-width="0.45"/><line x1="281.93" y1="255.5" x2="290.68" y2="255.5" stroke="#222" stroke-width="1"/><circle cx="282.2" cy="172.7" r="1" fill="#111"/><circle cx="288.8" cy="184.5" r="1" fill="#111"/><circle cx="284.4" cy="230.5" r="1" fill="#111"/><circle cx="286" cy="252.3" r="1" fill="#111"/><circle cx="286.3" cy="234" r="1.25" fill="#ffee00"/><line x1="297.97" y1="254" x2="297.97" y2="258" stroke="#888" stroke-width="0.7"/><rect x="293.59" y="254.8" width="8.75" height="3.2" fill="#9c22b8" stroke="#3a3a3a" stroke-width="0.45"/><circle cx="295" cy="256" r="1" fill="#111"/><circle cx="297.97" cy="256.8" r="1.25" fill="#ffee00"/><line x1="309.63" y1="243" x2="309.63" y2="258" stroke="#888" stroke-width="0.7"/><rect x="305.26" y="244.1" width="8.75" height="8.6" fill="#ffdd00" stroke="#3a3a3a" stroke-width="0.45"/><line x1="305.26" y1="248" x2="314.01" y2="248" stroke="#222" stroke-width="1"/><circle cx="312.4" cy="243" r="1" fill="#111"/><circle cx="314" cy="249.5" r="1" fill="#111"/><circle cx="310.7" cy="258" r="1" fill="#111"/><circle cx="313" cy="252" r="1" fill="#111"/><circle cx="309.63" cy="248" r="1.25" fill="#ffee00"/><line x1="321.3" y1="255" x2="321.3" y2="259" stroke="#888" stroke-width="0.7"/><rect x="316.93" y="255.7" width="8.75" height="3" fill="#ee3fe2" stroke="#3a3a3a" stroke-width="0.45"/><line x1="316.93" y1="257.5" x2="325.68" y2="257.5" stroke="#222" stroke-width="1"/><circle cx="321.3" cy="257.5" r="1.25" fill="#ffee00"/></g>
<g><path d="M350.7 264.8V169H436.4" fill="none" stroke="#dadada" stroke-width="1"/><path d="M350.7 264.8H436.4V169" fill="none" stroke="#c0c0c0" stroke-width="1"/><text transform="translate(390.4,164.2) scale(0.918,1)" text-anchor="middle" font-size="8.3" fill="#383838" stroke="#383838" stroke-width="0.2">D-Limonene</text><line x1="349.1" y1="172.6" x2="350.7" y2="172.6" stroke="#555" stroke-width="0.6"/><text transform="translate(348.3,175.2) scale(0.98,1)" text-anchor="end" font-size="5.8" fill="#4a4a4a" stroke="#4a4a4a" stroke-width="0.16">6 × 10⁸</text><line x1="349.1" y1="202.9" x2="350.7" y2="202.9" stroke="#555" stroke-width="0.6"/><text transform="translate(348.3,205.5) scale(0.98,1)" text-anchor="end" font-size="5.8" fill="#4a4a4a" stroke="#4a4a4a" stroke-width="0.16">4 × 10⁸</text><line x1="349.1" y1="230.4" x2="350.7" y2="230.4" stroke="#555" stroke-width="0.6"/><text transform="translate(348.3,233) scale(0.98,1)" text-anchor="end" font-size="5.8" fill="#4a4a4a" stroke="#4a4a4a" stroke-width="0.16">2 × 10⁸</text><line x1="349.1" y1="260.5" x2="350.7" y2="260.5" stroke="#555" stroke-width="0.6"/><text transform="translate(348.3,263.1) scale(0.98,1)" text-anchor="end" font-size="5.8" fill="#4a4a4a" stroke="#4a4a4a" stroke-width="0.16">0</text><line x1="357.84" y1="264.8" x2="357.84" y2="266.3" stroke="#777" stroke-width="0.6"/><text transform="translate(360.4,268.5) rotate(-90) scale(0.85,1)" text-anchor="end" font-size="6.4" fill="#3c3c3c" stroke="#3c3c3c" stroke-width="0.26">Crete</text><line x1="369.74" y1="264.8" x2="369.74" y2="266.3" stroke="#777" stroke-width="0.6"/><text transform="translate(372.62,268.5) rotate(-90) scale(0.85,1)" text-anchor="end" font-size="6.4" fill="#3c3c3c" stroke="#3c3c3c" stroke-width="0.26">Crete-Soul</text><line x1="381.65" y1="264.8" x2="381.65" y2="266.3" stroke="#777" stroke-width="0.6"/><text transform="translate(384.84,268.5) rotate(-90) scale(0.85,1)" text-anchor="end" font-size="6.4" fill="#3c3c3c" stroke="#3c3c3c" stroke-width="0.26">Limnos</text><line x1="393.55" y1="264.8" x2="393.55" y2="266.3" stroke="#777" stroke-width="0.6"/><text transform="translate(397.06,268.5) rotate(-90) scale(0.85,1)" text-anchor="end" font-size="6.4" fill="#3c3c3c" stroke="#3c3c3c" stroke-width="0.26">Macedonia</text><line x1="405.45" y1="264.8" x2="405.45" y2="266.3" stroke="#777" stroke-width="0.6"/><text transform="translate(409.28,268.5) rotate(-90) scale(0.85,1)" text-anchor="end" font-size="6.4" fill="#3c3c3c" stroke="#3c3c3c" stroke-width="0.26">Pella</text><line x1="417.36" y1="264.8" x2="417.36" y2="266.3" stroke="#777" stroke-width="0.6"/><text transform="translate(421.5,268.5) rotate(-90) scale(0.85,1)" text-anchor="end" font-size="6.4" fill="#3c3c3c" stroke="#3c3c3c" stroke-width="0.26">Thessaloniki</text><line x1="429.26" y1="264.8" x2="429.26" y2="266.3" stroke="#777" stroke-width="0.6"/><text transform="translate(433.72,268.5) rotate(-90) scale(0.85,1)" text-anchor="end" font-size="6.4" fill="#3c3c3c" stroke="#3c3c3c" stroke-width="0.26">Thessaly</text><rect x="353.38" y="259.5" width="8.93" height="1.6" fill="#151515"/><circle cx="357.84" cy="246" r="1.25" fill="#ffee00"/><rect x="365.28" y="259.5" width="8.93" height="1.6" fill="#151515"/><circle cx="361" cy="172.9" r="1" fill="#111"/><circle cx="369.6" cy="245.5" r="1" fill="#111"/><circle cx="366.5" cy="257" r="1" fill="#111"/><circle cx="369.74" cy="260" r="1.25" fill="#ffee00"/><line x1="381.65" y1="255" x2="381.65" y2="260" stroke="#888" stroke-width="0.7"/><rect x="377.18" y="255.7" width="8.93" height="3.7" fill="#2c5fd6" stroke="#3a3a3a" stroke-width="0.45"/><line x1="377.18" y1="257.5" x2="386.11" y2="257.5" stroke="#222" stroke-width="1"/><circle cx="378" cy="256" r="1" fill="#111"/><circle cx="385" cy="258" r="1" fill="#111"/><circle cx="381.65" cy="257.5" r="1.25" fill="#ffee00"/><line x1="393.55" y1="195.4" x2="393.55" y2="259" stroke="#888" stroke-width="0.7"/><rect x="389.09" y="227.4" width="8.93" height="31.6" fill="#19c6ee" stroke="#3a3a3a" stroke-width="0.45"/><circle cx="394.8" cy="195.4" r="1" fill="#111"/><circle cx="396.7" cy="208.5" r="1" fill="#111"/><circle cx="395.5" cy="233.9" r="1" fill="#111"/><circle cx="391" cy="259.5" r="1" fill="#111"/><circle cx="396" cy="259.5" r="1" fill="#111"/><circle cx="393.55" cy="241.8" r="1.25" fill="#ffee00"/><line x1="405.45" y1="255" x2="405.45" y2="259" stroke="#888" stroke-width="0.7"/><rect x="400.99" y="255.6" width="8.93" height="2.8" fill="#ee3fe2" stroke="#3a3a3a" stroke-width="0.45"/><line x1="400.99" y1="257" x2="409.92" y2="257" stroke="#222" stroke-width="1"/><circle cx="405.45" cy="257" r="1.25" fill="#ffee00"/><rect x="412.89" y="238.2" width="8.93" height="7.5" fill="#ffdd00" stroke="#3a3a3a" stroke-width="0.45"/><line x1="412.89" y1="242" x2="421.82" y2="242" stroke="#222" stroke-width="1"/><circle cx="417.3" cy="228.6" r="1" fill="#111"/><circle cx="416" cy="238" r="1" fill="#111"/><circle cx="415.2" cy="260.1" r="1" fill="#111"/><circle cx="422" cy="244.5" r="1" fill="#111"/><circle cx="414" cy="243" r="1" fill="#111"/><circle cx="420" cy="240" r="1" fill="#111"/><circle cx="417.36" cy="242" r="1.25" fill="#ffee00"/><line x1="429.26" y1="247" x2="429.26" y2="260.5" stroke="#888" stroke-width="0.7"/><rect x="424.79" y="253.5" width="8.93" height="7.1" fill="#9c22b8" stroke="#3a3a3a" stroke-width="0.45"/><line x1="424.79" y1="260.2" x2="433.72" y2="260.2" stroke="#222" stroke-width="1"/><circle cx="426.1" cy="246.8" r="1" fill="#111"/><circle cx="429.26" cy="256" r="1.25" fill="#ffee00"/></g>
<g><path d="M460.9 264.6V170H546.5" fill="none" stroke="#dadada" stroke-width="1"/><path d="M460.9 264.6H546.5V170" fill="none" stroke="#c0c0c0" stroke-width="1"/><text transform="translate(502.5,164.2) scale(0.881,1)" text-anchor="middle" font-size="8.3" fill="#383838" stroke="#383838" stroke-width="0.2">4-Carene</text><line x1="459.3" y1="177.9" x2="460.9" y2="177.9" stroke="#555" stroke-width="0.6"/><text transform="translate(458.5,180.5) scale(0.98,1)" text-anchor="end" font-size="5.8" fill="#4a4a4a" stroke="#4a4a4a" stroke-width="0.16">6 × 10⁸</text><line x1="459.3" y1="205.5" x2="460.9" y2="205.5" stroke="#555" stroke-width="0.6"/><text transform="translate(458.5,208.1) scale(0.98,1)" text-anchor="end" font-size="5.8" fill="#4a4a4a" stroke="#4a4a4a" stroke-width="0.16">4 × 10⁸</text><line x1="459.3" y1="233.2" x2="460.9" y2="233.2" stroke="#555" stroke-width="0.6"/><text transform="translate(458.5,235.8) scale(0.98,1)" text-anchor="end" font-size="5.8" fill="#4a4a4a" stroke="#4a4a4a" stroke-width="0.16">2 × 10⁸</text><line x1="459.3" y1="261" x2="460.9" y2="261" stroke="#555" stroke-width="0.6"/><text transform="translate(458.5,263.6) scale(0.98,1)" text-anchor="end" font-size="5.8" fill="#4a4a4a" stroke="#4a4a4a" stroke-width="0.16">0</text><line x1="468.03" y1="264.6" x2="468.03" y2="266.1" stroke="#777" stroke-width="0.6"/><text transform="translate(470.6,268.5) rotate(-90) scale(0.85,1)" text-anchor="end" font-size="6.4" fill="#3c3c3c" stroke="#3c3c3c" stroke-width="0.26">Crete</text><line x1="479.92" y1="264.6" x2="479.92" y2="266.1" stroke="#777" stroke-width="0.6"/><text transform="translate(482.87,268.5) rotate(-90) scale(0.85,1)" text-anchor="end" font-size="6.4" fill="#3c3c3c" stroke="#3c3c3c" stroke-width="0.26">Crete-Soul</text><line x1="491.81" y1="264.6" x2="491.81" y2="266.1" stroke="#777" stroke-width="0.6"/><text transform="translate(495.14,268.5) rotate(-90) scale(0.85,1)" text-anchor="end" font-size="6.4" fill="#3c3c3c" stroke="#3c3c3c" stroke-width="0.26">Limnos</text><line x1="503.7" y1="264.6" x2="503.7" y2="266.1" stroke="#777" stroke-width="0.6"/><text transform="translate(507.41,268.5) rotate(-90) scale(0.85,1)" text-anchor="end" font-size="6.4" fill="#3c3c3c" stroke="#3c3c3c" stroke-width="0.26">Macedonia</text><line x1="515.59" y1="264.6" x2="515.59" y2="266.1" stroke="#777" stroke-width="0.6"/><text transform="translate(519.68,268.5) rotate(-90) scale(0.85,1)" text-anchor="end" font-size="6.4" fill="#3c3c3c" stroke="#3c3c3c" stroke-width="0.26">Pella</text><line x1="527.48" y1="264.6" x2="527.48" y2="266.1" stroke="#777" stroke-width="0.6"/><text transform="translate(531.95,268.5) rotate(-90) scale(0.85,1)" text-anchor="end" font-size="6.4" fill="#3c3c3c" stroke="#3c3c3c" stroke-width="0.26">Thessaloniki</text><line x1="539.37" y1="264.6" x2="539.37" y2="266.1" stroke="#777" stroke-width="0.6"/><text transform="translate(544.22,268.5) rotate(-90) scale(0.85,1)" text-anchor="end" font-size="6.4" fill="#3c3c3c" stroke="#3c3c3c" stroke-width="0.26">Thessaly</text><rect x="463.57" y="260.5" width="8.92" height="1.6" fill="#151515"/><circle cx="464.5" cy="254.8" r="1" fill="#111"/><circle cx="468.03" cy="261" r="1.25" fill="#ffee00"/><rect x="475.46" y="260.5" width="8.92" height="1.6" fill="#151515"/><circle cx="479" cy="247.8" r="1" fill="#111"/><circle cx="479.92" cy="261" r="1.25" fill="#ffee00"/><line x1="491.81" y1="256" x2="491.81" y2="261" stroke="#888" stroke-width="0.7"/><rect x="487.35" y="256.4" width="8.92" height="3.9" fill="#2c5fd6" stroke="#3a3a3a" stroke-width="0.45"/><line x1="487.35" y1="258" x2="496.27" y2="258" stroke="#222" stroke-width="1"/><circle cx="488" cy="257" r="1" fill="#111"/><circle cx="495" cy="256" r="1" fill="#111"/><circle cx="491.81" cy="258" r="1.25" fill="#ffee00"/><line x1="503.7" y1="243" x2="503.7" y2="261.5" stroke="#888" stroke-width="0.7"/><rect x="499.24" y="243.2" width="8.92" height="17.8" fill="#19c6ee" stroke="#3a3a3a" stroke-width="0.45"/><circle cx="501.6" cy="174" r="1" fill="#111"/><circle cx="507.8" cy="214" r="1" fill="#111"/><circle cx="501.5" cy="253.5" r="1" fill="#111"/><circle cx="503.7" cy="243.5" r="1.25" fill="#ffee00"/><rect x="511.13" y="260.5" width="8.92" height="1.6" fill="#151515"/><circle cx="515.59" cy="261" r="1.25" fill="#ffee00"/><rect x="523.02" y="258.5" width="8.92" height="2.5" fill="#151515"/><circle cx="525" cy="258" r="1" fill="#111"/><circle cx="530" cy="259" r="1" fill="#111"/><circle cx="527.48" cy="260" r="1.25" fill="#ffee00"/><rect x="534.91" y="260.5" width="8.92" height="1.6" fill="#151515"/><circle cx="539.37" cy="261" r="1.25" fill="#ffee00"/></g>
</svg>
</body></html>
